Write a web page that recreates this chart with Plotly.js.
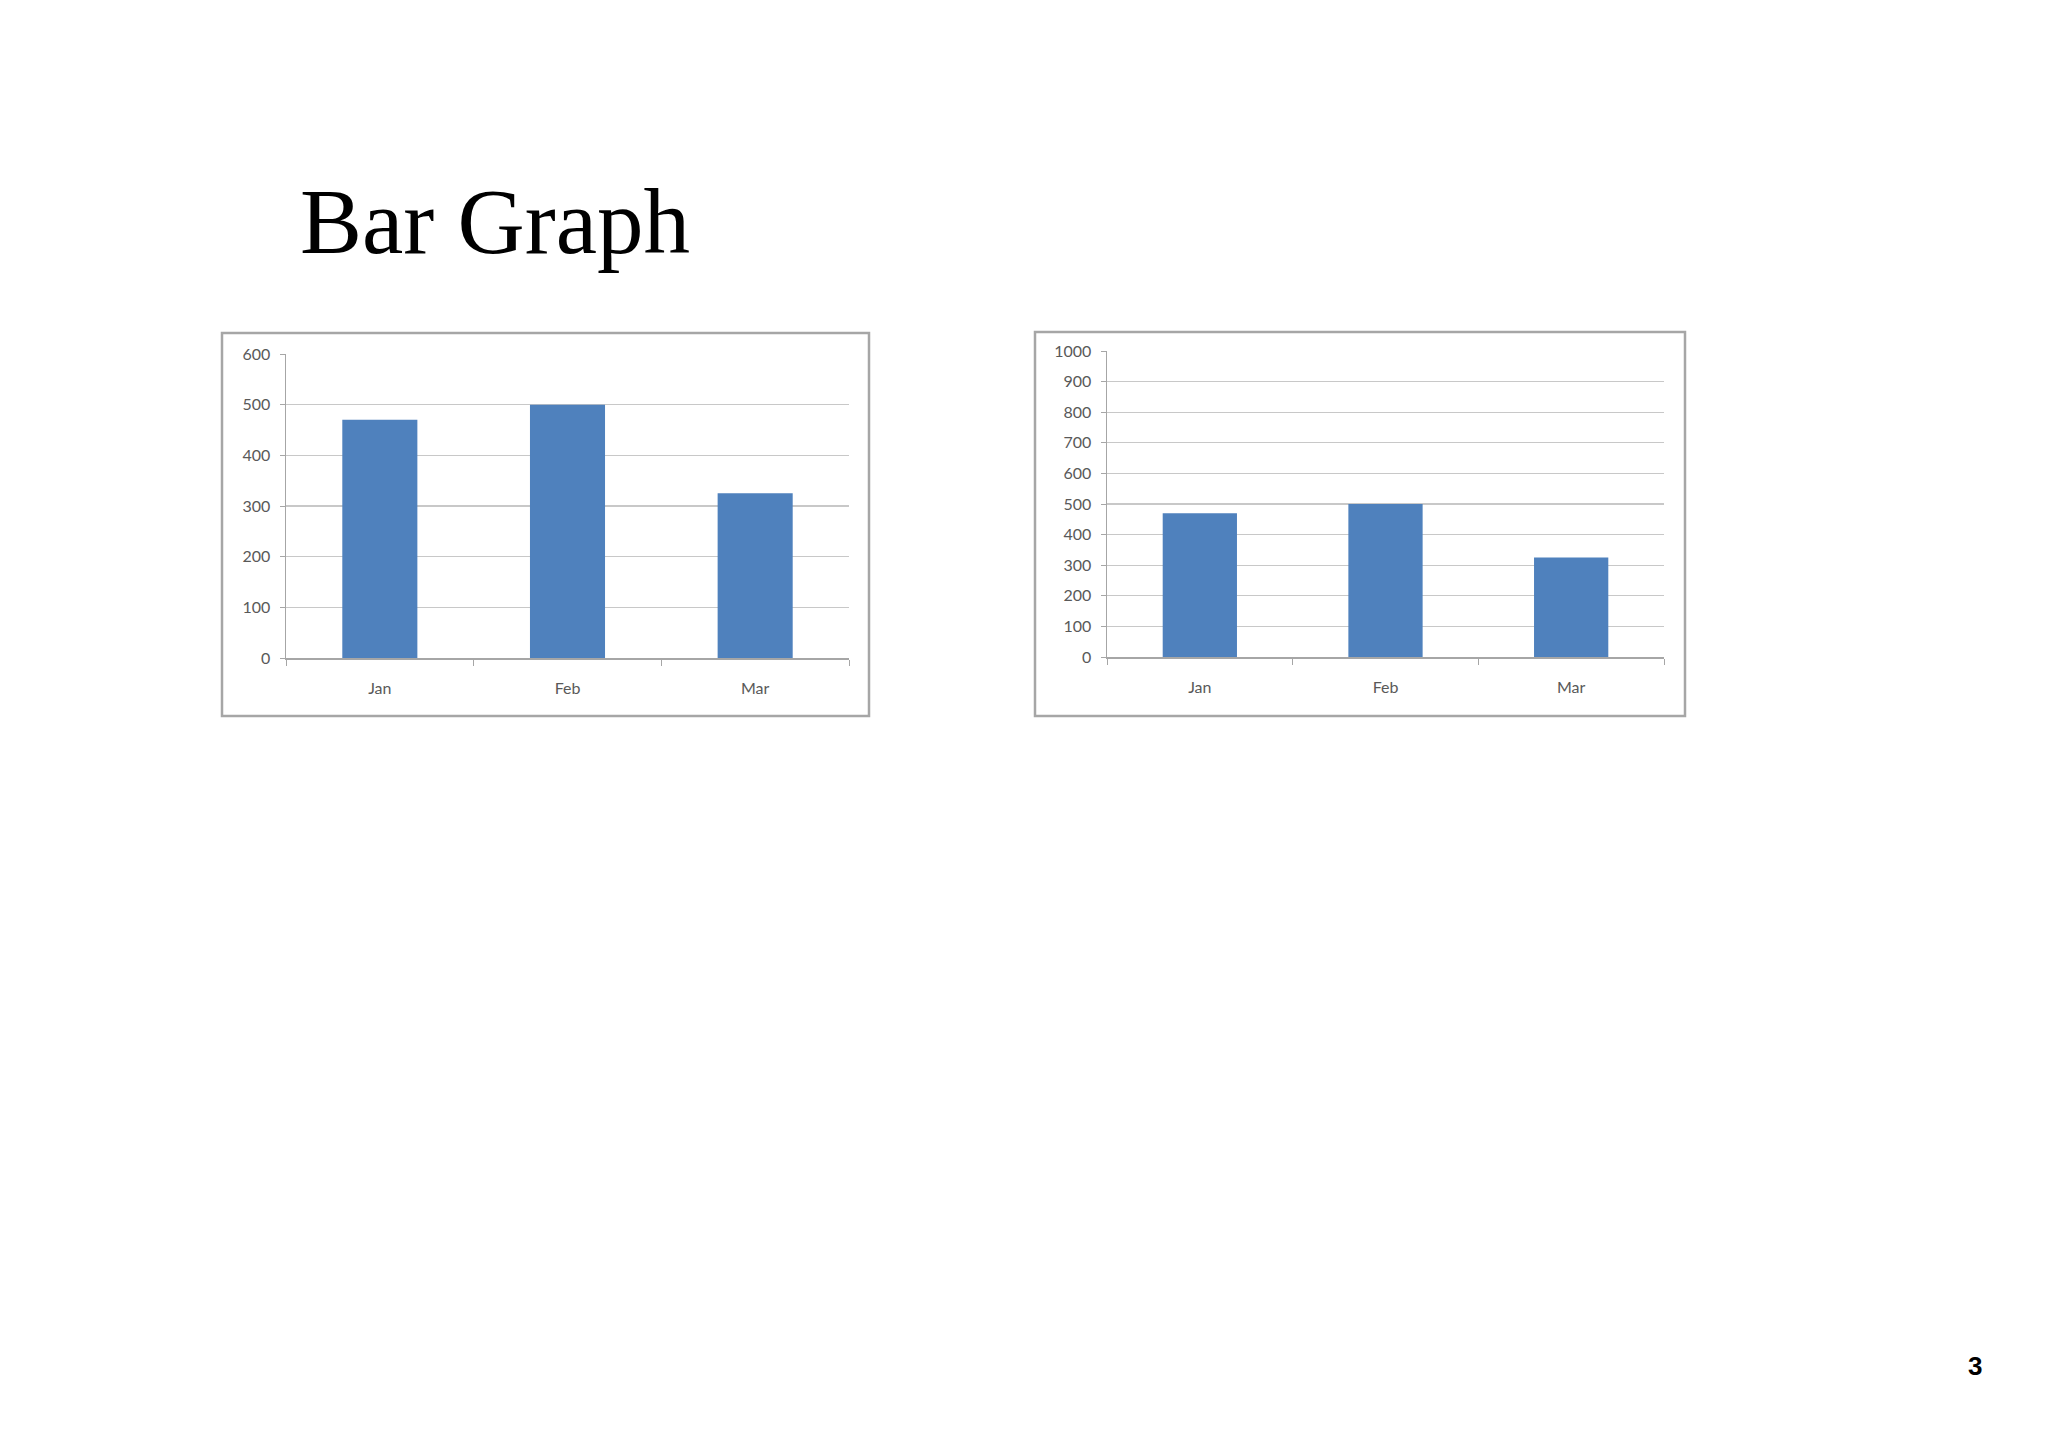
<!DOCTYPE html>
<html>
<head>
<meta charset="utf-8">
<script src="https://cdn.plot.ly/plotly-3.0.1.min.js"></script>
<style>
html,body{margin:0;padding:0;background:#fff;}
#chart{width:2048px;height:1447px;}
</style>
</head>
<body>
<div id="chart"></div>
<script>
const categories = ["Jan", "Feb", "Mar"];
const values = [470, 500, 325];
const leftTicks = [0, 100, 200, 300, 400, 500, 600];
const rightTicks = [0, 100, 200, 300, 400, 500, 600, 700, 800, 900, 1000];
const slideTitle = "Bar Graph";
const pageNumber = "3";

const W = 2048, H = 1447;
const px = v => v / W;
const py = v => 1 - v / H;

const barColor = "#4f81bd";
const tickFont = {family: "Lato, 'Open Sans', sans-serif", size: 16, color: "#595959"};

const traces = [
  {type: "bar", x: categories, y: values, xaxis: "x", yaxis: "y",
   marker: {color: barColor, line: {width: 0}}, width: 0.4, hoverinfo: "skip"},
  {type: "bar", x: categories, y: values, xaxis: "x2", yaxis: "y2",
   marker: {color: barColor, line: {width: 0}}, width: 0.4, hoverinfo: "skip"}
];

function xAxis(domain, anchor) {
  return {domain: domain, anchor: anchor, type: "category", range: [-0.5, 2.5],
    showline: true, linecolor: "#a6a6a6", linewidth: 1.5,
    ticks: "outside", tickson: "boundaries", ticklen: 6, tickcolor: "#a6a6a6",
    showgrid: false, zeroline: false, tickfont: tickFont, ticklabelstandoff: 15,
    fixedrange: true};
}
function yAxis(domain, anchor, range, ticks) {
  return {domain: domain, anchor: anchor, range: range, tickvals: ticks,
    showline: true, linecolor: "#a6a6a6", linewidth: 1.5,
    ticks: "outside", ticklen: 5, tickcolor: "#a6a6a6",
    showgrid: true, gridcolor: "#c8c8c8", gridwidth: 1.2, zeroline: false,
    tickfont: tickFont, ticklabelstandoff: 6, fixedrange: true};
}

const layout = {
  width: W, height: H,
  margin: {l: 0, r: 0, t: 0, b: 0, pad: 0},
  paper_bgcolor: "#ffffff", plot_bgcolor: "rgba(0,0,0,0)",
  showlegend: false, bargap: 0.6,
  xaxis: xAxis([px(286), px(849)], "y"),
  yaxis: yAxis([py(658), py(354)], "x", [0, 600], leftTicks),
  xaxis2: xAxis([px(1107), px(1664)], "y2"),
  yaxis2: yAxis([py(657), py(351)], "x2", [0, 1000], rightTicks),
  shapes: [
    {type: "rect", xref: "paper", yref: "paper", x0: px(222), x1: px(869), y0: py(716), y1: py(333),
     line: {color: "#a6a6a6", width: 2.5}, fillcolor: "rgba(0,0,0,0)", layer: "below"},
    {type: "rect", xref: "paper", yref: "paper", x0: px(1035), x1: px(1685), y0: py(716), y1: py(332),
     line: {color: "#a6a6a6", width: 2.5}, fillcolor: "rgba(0,0,0,0)", layer: "below"}
  ],
  annotations: [
    {text: slideTitle, xref: "paper", yref: "paper", x: px(298), y: py(222),
     xanchor: "left", yanchor: "middle", showarrow: false,
     font: {family: "'Liberation Serif', 'Times New Roman', serif", size: 93, color: "#000"}},
    {text: "<b>" + pageNumber + "</b>", xref: "paper", yref: "paper", x: px(1975), y: py(1366),
     xanchor: "center", yanchor: "middle", showarrow: false,
     font: {family: "'Liberation Sans', Arial, sans-serif", size: 26, color: "#000"}}
  ]
};

Plotly.newPlot("chart", traces, layout, {staticPlot: true, displayModeBar: false});
</script>
</body>
</html>
